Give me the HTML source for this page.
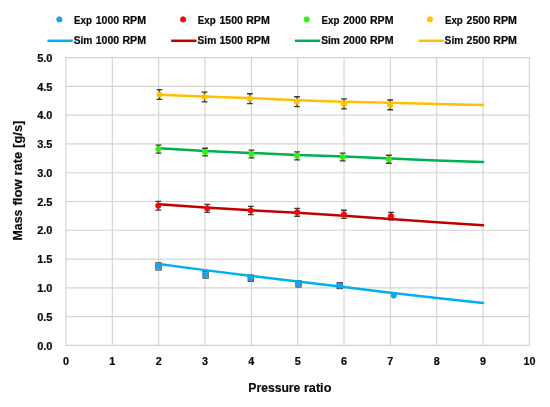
<!DOCTYPE html>
<html><head><meta charset="utf-8"><title>Mass flow rate vs pressure ratio</title>
<style>
html,body{margin:0;padding:0;background:#fff;}
body{width:550px;height:407px;overflow:hidden;}
svg{display:block;}
text{font-family:"Liberation Sans", Arial, sans-serif;font-weight:bold;fill:#0a0a0a;stroke:#0a0a0a;stroke-width:0.2px;}
.tk{font-size:10.1px;}
.ax{font-size:13.0px;}
.grid line{stroke:#d4d4d4;stroke-width:1.15;}
.eb{stroke:#383838;stroke-width:1.3;fill:none;}
.ln{fill:none;stroke-width:2.5;stroke-linecap:round;stroke-linejoin:round;}
</style></head><body>
<svg width="550" height="407" viewBox="0 0 550 407">
<rect x="0" y="0" width="550" height="407" fill="#ffffff"/>

<g class="grid">
<line x1="66.00" y1="57.10" x2="66.00" y2="345.90"/>
<line x1="112.34" y1="57.10" x2="112.34" y2="345.90"/>
<line x1="158.68" y1="57.10" x2="158.68" y2="345.90"/>
<line x1="205.02" y1="57.10" x2="205.02" y2="345.90"/>
<line x1="251.36" y1="57.10" x2="251.36" y2="345.90"/>
<line x1="297.70" y1="57.10" x2="297.70" y2="345.90"/>
<line x1="344.04" y1="57.10" x2="344.04" y2="345.90"/>
<line x1="390.38" y1="57.10" x2="390.38" y2="345.90"/>
<line x1="436.72" y1="57.10" x2="436.72" y2="345.90"/>
<line x1="483.06" y1="57.10" x2="483.06" y2="345.90"/>
<line x1="529.40" y1="57.10" x2="529.40" y2="345.90"/>
<line x1="65.50" y1="345.40" x2="529.90" y2="345.40"/>
<line x1="65.50" y1="316.62" x2="529.90" y2="316.62"/>
<line x1="65.50" y1="287.84" x2="529.90" y2="287.84"/>
<line x1="65.50" y1="259.06" x2="529.90" y2="259.06"/>
<line x1="65.50" y1="230.28" x2="529.90" y2="230.28"/>
<line x1="65.50" y1="201.50" x2="529.90" y2="201.50"/>
<line x1="65.50" y1="172.72" x2="529.90" y2="172.72"/>
<line x1="65.50" y1="143.94" x2="529.90" y2="143.94"/>
<line x1="65.50" y1="115.16" x2="529.90" y2="115.16"/>
<line x1="65.50" y1="86.38" x2="529.90" y2="86.38"/>
<line x1="65.50" y1="57.60" x2="529.90" y2="57.60"/>
</g>
<text class="tk" x="52.5" y="349.60" text-anchor="end" textLength="15.3" lengthAdjust="spacingAndGlyphs">0.0</text>
<text class="tk" x="52.5" y="320.82" text-anchor="end" textLength="15.3" lengthAdjust="spacingAndGlyphs">0.5</text>
<text class="tk" x="52.5" y="292.04" text-anchor="end" textLength="15.3" lengthAdjust="spacingAndGlyphs">1.0</text>
<text class="tk" x="52.5" y="263.26" text-anchor="end" textLength="15.3" lengthAdjust="spacingAndGlyphs">1.5</text>
<text class="tk" x="52.5" y="234.48" text-anchor="end" textLength="15.3" lengthAdjust="spacingAndGlyphs">2.0</text>
<text class="tk" x="52.5" y="205.70" text-anchor="end" textLength="15.3" lengthAdjust="spacingAndGlyphs">2.5</text>
<text class="tk" x="52.5" y="176.92" text-anchor="end" textLength="15.3" lengthAdjust="spacingAndGlyphs">3.0</text>
<text class="tk" x="52.5" y="148.14" text-anchor="end" textLength="15.3" lengthAdjust="spacingAndGlyphs">3.5</text>
<text class="tk" x="52.5" y="119.36" text-anchor="end" textLength="15.3" lengthAdjust="spacingAndGlyphs">4.0</text>
<text class="tk" x="52.5" y="90.58" text-anchor="end" textLength="15.3" lengthAdjust="spacingAndGlyphs">4.5</text>
<text class="tk" x="52.5" y="61.80" text-anchor="end" textLength="15.3" lengthAdjust="spacingAndGlyphs">5.0</text>
<text class="tk" x="66.00" y="365.2" text-anchor="middle" textLength="6.0" lengthAdjust="spacingAndGlyphs">0</text>
<text class="tk" x="112.34" y="365.2" text-anchor="middle" textLength="6.0" lengthAdjust="spacingAndGlyphs">1</text>
<text class="tk" x="158.68" y="365.2" text-anchor="middle" textLength="6.0" lengthAdjust="spacingAndGlyphs">2</text>
<text class="tk" x="205.02" y="365.2" text-anchor="middle" textLength="6.0" lengthAdjust="spacingAndGlyphs">3</text>
<text class="tk" x="251.36" y="365.2" text-anchor="middle" textLength="6.0" lengthAdjust="spacingAndGlyphs">4</text>
<text class="tk" x="297.70" y="365.2" text-anchor="middle" textLength="6.0" lengthAdjust="spacingAndGlyphs">5</text>
<text class="tk" x="344.04" y="365.2" text-anchor="middle" textLength="6.0" lengthAdjust="spacingAndGlyphs">6</text>
<text class="tk" x="390.38" y="365.2" text-anchor="middle" textLength="6.0" lengthAdjust="spacingAndGlyphs">7</text>
<text class="tk" x="436.72" y="365.2" text-anchor="middle" textLength="6.0" lengthAdjust="spacingAndGlyphs">8</text>
<text class="tk" x="483.06" y="365.2" text-anchor="middle" textLength="6.0" lengthAdjust="spacingAndGlyphs">9</text>
<text class="tk" x="529.40" y="365.2" text-anchor="middle" textLength="12.0" lengthAdjust="spacingAndGlyphs">10</text>
<text class="ax" y="392.0"><tspan x="248.3" textLength="52.0" lengthAdjust="spacingAndGlyphs">Pressure</tspan> <tspan x="303.9" textLength="27.5" lengthAdjust="spacingAndGlyphs">ratio</tspan></text>
<text class="ax" transform="translate(21.5,240.4) rotate(-90)"><tspan x="0" textLength="30.8" lengthAdjust="spacingAndGlyphs">Mass</tspan> <tspan x="34.8" textLength="26.3" lengthAdjust="spacingAndGlyphs">flow</tspan> <tspan x="65.0" textLength="23.4" lengthAdjust="spacingAndGlyphs">rate</tspan> <tspan x="92.5" textLength="27.3" lengthAdjust="spacingAndGlyphs">[g/s]</tspan></text>
<rect class="eb" style="stroke:#3c4656;stroke-width:1.1" x="155.90" y="262.75" width="5.2" height="7.30"/>
<rect class="eb" style="stroke:#3c4656;stroke-width:1.1" x="203.00" y="271.45" width="5.2" height="6.70"/>
<rect class="eb" style="stroke:#3c4656;stroke-width:1.1" x="248.15" y="274.95" width="5.2" height="6.40"/>
<rect class="eb" style="stroke:#3c4656;stroke-width:1.1" x="295.90" y="280.75" width="5.2" height="6.30"/>
<rect class="eb" style="stroke:#3c4656;stroke-width:1.1" x="337.10" y="282.55" width="5.2" height="6.10"/>
<path class="eb" d="M158.30 201.45V210.05M155.40 201.45H161.20M155.40 210.05H161.20"/>
<path class="eb" d="M207.30 204.35V212.35M204.40 204.35H210.20M204.40 212.35H210.20"/>
<path class="eb" d="M250.80 206.45V214.55M247.90 206.45H253.70M247.90 214.55H253.70"/>
<path class="eb" d="M297.20 208.35V216.25M294.30 208.35H300.10M294.30 216.25H300.10"/>
<path class="eb" d="M343.90 210.25V218.45M341.00 210.25H346.80M341.00 218.45H346.80"/>
<path class="eb" d="M391.00 212.35V219.95M388.10 212.35H393.90M388.10 219.95H393.90"/>
<path class="eb" d="M158.50 145.15V153.05M155.60 145.15H161.40M155.60 153.05H161.40"/>
<path class="eb" d="M205.10 148.25V155.85M202.20 148.25H208.00M202.20 155.85H208.00"/>
<path class="eb" d="M251.50 150.15V157.85M248.60 150.15H254.40M248.60 157.85H254.40"/>
<path class="eb" d="M297.10 151.95V159.95M294.20 151.95H300.00M294.20 159.95H300.00"/>
<path class="eb" d="M342.70 153.05V160.95M339.80 153.05H345.60M339.80 160.95H345.60"/>
<path class="eb" d="M388.80 155.25V163.25M385.90 155.25H391.70M385.90 163.25H391.70"/>
<path class="eb" d="M159.50 89.65V99.45M156.60 89.65H162.40M156.60 99.45H162.40"/>
<path class="eb" d="M204.50 92.05V101.95M201.60 92.05H207.40M201.60 101.95H207.40"/>
<path class="eb" d="M249.90 93.75V103.55M247.00 93.75H252.80M247.00 103.55H252.80"/>
<path class="eb" d="M297.00 96.75V106.55M294.10 96.75H299.90M294.10 106.55H299.90"/>
<path class="eb" d="M344.00 98.95V108.90M341.10 98.95H346.90M341.10 108.90H346.90"/>
<path class="eb" d="M390.20 100.00V109.75M387.30 100.00H393.10M387.30 109.75H393.10"/>
<path class="ln" d="M158.68 264.03 L205.02 270.13 L251.36 275.89 L297.70 281.59 L344.04 287.11 L390.38 292.64 L436.72 297.93 L483.06 303.06" stroke="#00b0f0"/>
<path class="ln" d="M158.68 204.34 L205.02 207.62 L251.36 210.27 L297.70 212.86 L344.04 215.74 L390.38 219.08 L436.72 222.36 L483.06 225.23" stroke="#c00000"/>
<path class="ln" d="M158.68 148.33 L205.02 151.04 L251.36 153.00 L297.70 154.90 L344.04 156.62 L390.38 158.52 L436.72 160.42 L483.06 162.03" stroke="#00b050"/>
<path class="ln" d="M158.68 94.75 L205.02 96.47 L251.36 98.26 L297.70 100.16 L344.04 101.77 L390.38 102.80 L436.72 103.90 L483.06 105.05" stroke="#ffc000"/>
<circle cx="158.50" cy="266.35" r="2.7" fill="#00b0f0" stroke="#3a86d4" stroke-width="0.7"/>
<circle cx="205.60" cy="274.75" r="2.7" fill="#00b0f0" stroke="#3a86d4" stroke-width="0.7"/>
<circle cx="250.75" cy="278.15" r="2.7" fill="#00b0f0" stroke="#3a86d4" stroke-width="0.7"/>
<circle cx="298.50" cy="283.85" r="2.7" fill="#00b0f0" stroke="#3a86d4" stroke-width="0.7"/>
<circle cx="339.70" cy="285.55" r="2.7" fill="#00b0f0" stroke="#3a86d4" stroke-width="0.7"/>
<circle cx="393.80" cy="295.55" r="2.7" fill="#00b0f0" stroke="#3a86d4" stroke-width="0.7"/>
<circle cx="158.30" cy="205.65" r="2.7" fill="#ff0000" stroke="#d81010" stroke-width="0.7"/>
<circle cx="207.30" cy="208.45" r="2.7" fill="#ff0000" stroke="#d81010" stroke-width="0.7"/>
<circle cx="250.80" cy="210.55" r="2.7" fill="#ff0000" stroke="#d81010" stroke-width="0.7"/>
<circle cx="297.20" cy="212.25" r="2.7" fill="#ff0000" stroke="#d81010" stroke-width="0.7"/>
<circle cx="343.90" cy="214.35" r="2.7" fill="#ff0000" stroke="#d81010" stroke-width="0.7"/>
<circle cx="391.00" cy="216.15" r="2.7" fill="#ff0000" stroke="#d81010" stroke-width="0.7"/>
<circle cx="158.50" cy="149.00" r="2.7" fill="#30f010" stroke="#30f010" stroke-width="0.7"/>
<circle cx="205.10" cy="152.05" r="2.7" fill="#30f010" stroke="#30f010" stroke-width="0.7"/>
<circle cx="251.50" cy="154.00" r="2.7" fill="#30f010" stroke="#30f010" stroke-width="0.7"/>
<circle cx="297.10" cy="155.85" r="2.7" fill="#30f010" stroke="#30f010" stroke-width="0.7"/>
<circle cx="342.70" cy="156.95" r="2.7" fill="#30f010" stroke="#30f010" stroke-width="0.7"/>
<circle cx="388.80" cy="159.15" r="2.7" fill="#30f010" stroke="#30f010" stroke-width="0.7"/>
<circle cx="159.50" cy="94.60" r="2.7" fill="#ffc000" stroke="#ffc000" stroke-width="0.7"/>
<circle cx="204.50" cy="96.85" r="2.7" fill="#ffc000" stroke="#ffc000" stroke-width="0.7"/>
<circle cx="249.90" cy="98.65" r="2.7" fill="#ffc000" stroke="#ffc000" stroke-width="0.7"/>
<circle cx="297.00" cy="101.65" r="2.7" fill="#ffc000" stroke="#ffc000" stroke-width="0.7"/>
<circle cx="344.00" cy="104.15" r="2.7" fill="#ffc000" stroke="#ffc000" stroke-width="0.7"/>
<circle cx="390.20" cy="104.95" r="2.7" fill="#ffc000" stroke="#ffc000" stroke-width="0.7"/>
<circle cx="59.4" cy="19.4" r="2.7" fill="#00b0f0" stroke="#3a86d4" stroke-width="0.7"/>
<text class="tk" y="23.7"><tspan x="74.0" textLength="17.9" lengthAdjust="spacingAndGlyphs">Exp</tspan> <tspan x="95.7" textLength="23.4" lengthAdjust="spacingAndGlyphs">1000</tspan> <tspan x="122.4" textLength="23.6" lengthAdjust="spacingAndGlyphs">RPM</tspan></text>
<line x1="47.4" y1="40.8" x2="72.7" y2="40.8" stroke="#00b0f0" stroke-width="2.5"/>
<text class="tk" y="44.1"><tspan x="73.7" textLength="18.7" lengthAdjust="spacingAndGlyphs">Sim</tspan> <tspan x="95.7" textLength="23.4" lengthAdjust="spacingAndGlyphs">1000</tspan> <tspan x="122.4" textLength="23.6" lengthAdjust="spacingAndGlyphs">RPM</tspan></text>
<circle cx="183.1" cy="19.4" r="2.7" fill="#ff0000" stroke="#d81010" stroke-width="0.7"/>
<text class="tk" y="23.7"><tspan x="197.8" textLength="17.9" lengthAdjust="spacingAndGlyphs">Exp</tspan> <tspan x="219.5" textLength="23.4" lengthAdjust="spacingAndGlyphs">1500</tspan> <tspan x="246.2" textLength="23.6" lengthAdjust="spacingAndGlyphs">RPM</tspan></text>
<line x1="171.2" y1="40.8" x2="196.5" y2="40.8" stroke="#c00000" stroke-width="2.5"/>
<text class="tk" y="44.1"><tspan x="197.5" textLength="18.7" lengthAdjust="spacingAndGlyphs">Sim</tspan> <tspan x="219.5" textLength="23.4" lengthAdjust="spacingAndGlyphs">1500</tspan> <tspan x="246.2" textLength="23.6" lengthAdjust="spacingAndGlyphs">RPM</tspan></text>
<circle cx="306.7" cy="19.4" r="2.7" fill="#30f010" stroke="#30f010" stroke-width="0.7"/>
<text class="tk" y="23.7"><tspan x="321.5" textLength="17.9" lengthAdjust="spacingAndGlyphs">Exp</tspan> <tspan x="343.2" textLength="23.4" lengthAdjust="spacingAndGlyphs">2000</tspan> <tspan x="369.9" textLength="23.6" lengthAdjust="spacingAndGlyphs">RPM</tspan></text>
<line x1="294.9" y1="40.8" x2="320.2" y2="40.8" stroke="#00b050" stroke-width="2.5"/>
<text class="tk" y="44.1"><tspan x="321.2" textLength="18.7" lengthAdjust="spacingAndGlyphs">Sim</tspan> <tspan x="343.2" textLength="23.4" lengthAdjust="spacingAndGlyphs">2000</tspan> <tspan x="369.9" textLength="23.6" lengthAdjust="spacingAndGlyphs">RPM</tspan></text>
<circle cx="430.0" cy="19.4" r="2.7" fill="#ffc000" stroke="#ffc000" stroke-width="0.7"/>
<text class="tk" y="23.7"><tspan x="444.9" textLength="17.9" lengthAdjust="spacingAndGlyphs">Exp</tspan> <tspan x="466.6" textLength="23.4" lengthAdjust="spacingAndGlyphs">2500</tspan> <tspan x="493.3" textLength="23.6" lengthAdjust="spacingAndGlyphs">RPM</tspan></text>
<line x1="418.3" y1="40.8" x2="443.6" y2="40.8" stroke="#ffc000" stroke-width="2.5"/>
<text class="tk" y="44.1"><tspan x="444.6" textLength="18.7" lengthAdjust="spacingAndGlyphs">Sim</tspan> <tspan x="466.6" textLength="23.4" lengthAdjust="spacingAndGlyphs">2500</tspan> <tspan x="493.3" textLength="23.6" lengthAdjust="spacingAndGlyphs">RPM</tspan></text>
</svg></body></html>
